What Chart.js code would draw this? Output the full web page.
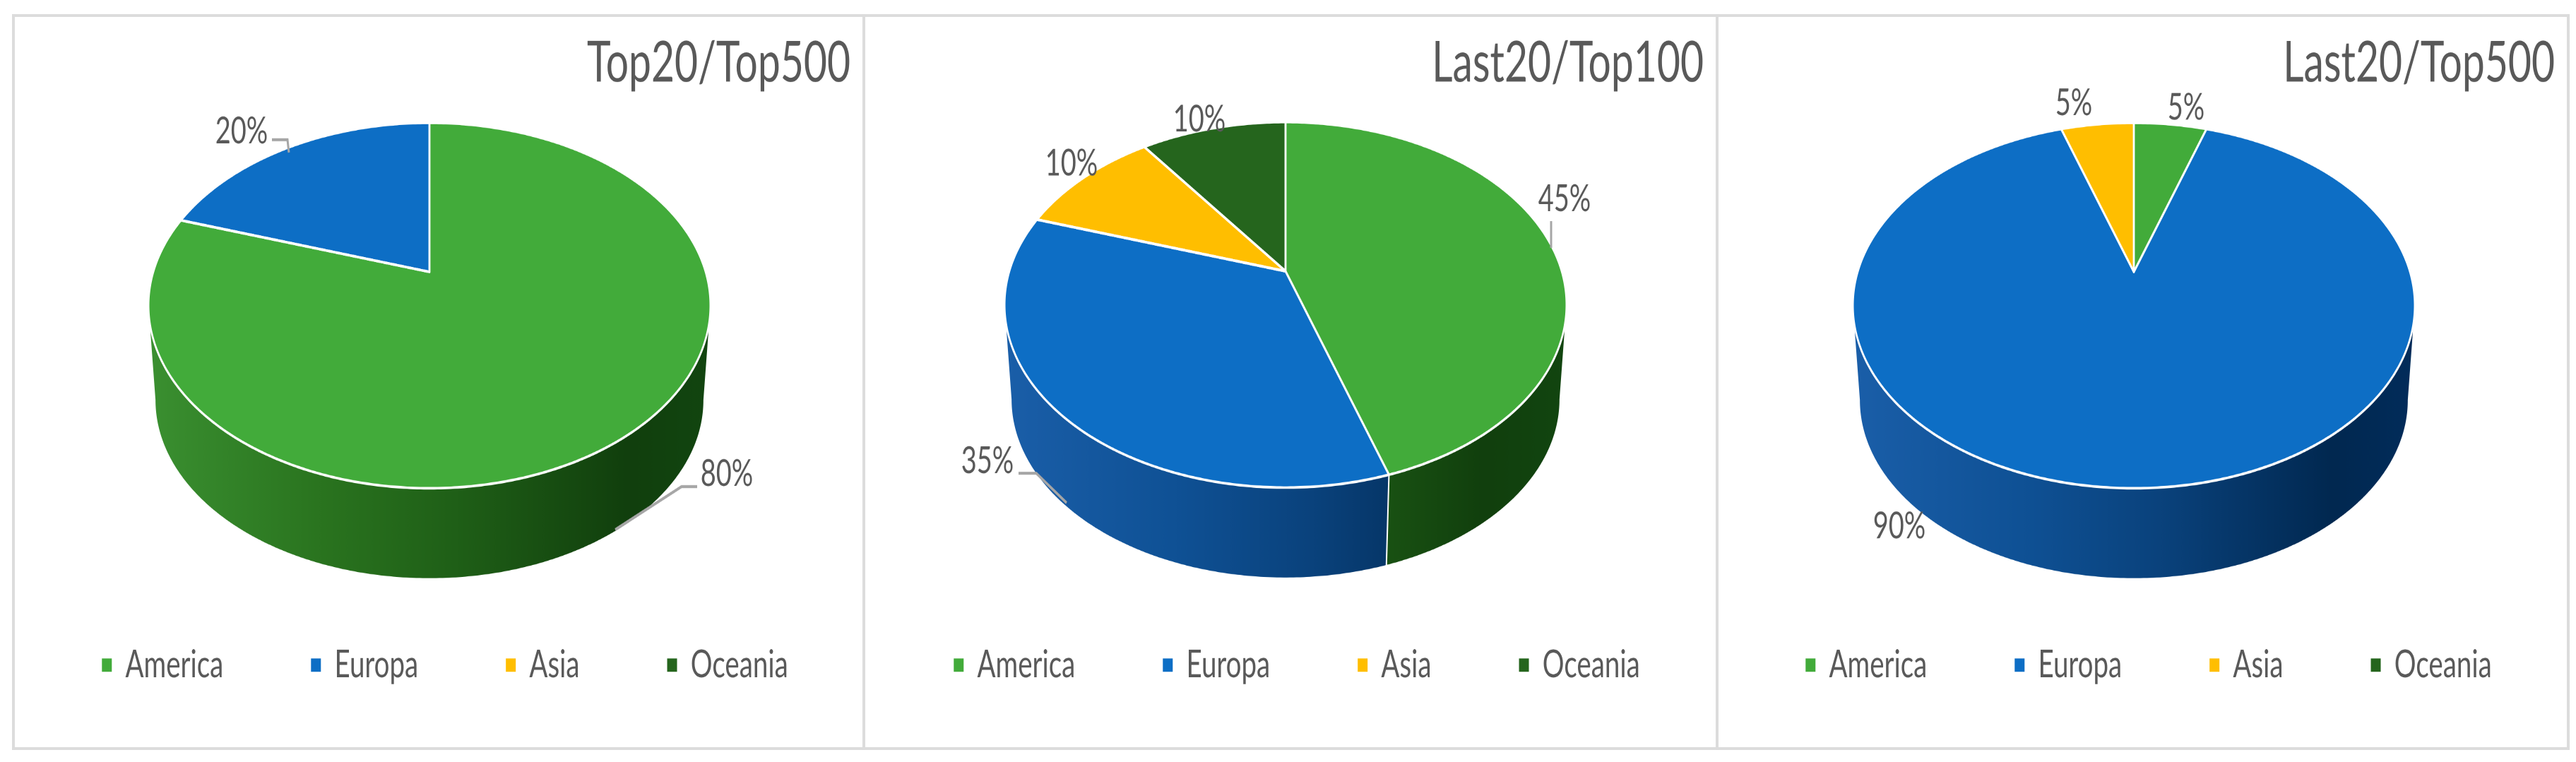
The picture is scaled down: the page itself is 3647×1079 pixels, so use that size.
<!DOCTYPE html>
<html>
<head>
<meta charset="utf-8">
<script src="https://cdn.jsdelivr.net/npm/chart.js@4"></script>
<style>
  html, body { margin: 0; background: #fff; width: 3647px; height: 1079px; overflow: hidden; }
  .card { position: absolute; top: 20px; height: 1042px; border: 4px solid #dcdcdc; box-sizing: border-box; background: #fff; }
  .wrap { position: absolute; top: 0; width: 1300px; height: 702px; transform: scaleY(1.4); transform-origin: 0 0; }
</style>
</head>
<body>
<div class="card" style="left:17px;width:1208px"></div>
<div class="card" style="left:1221px;width:1212px"></div>
<div class="card" style="left:2429px;width:1209px"></div>
<div class="wrap" id="w0"><canvas id="c0" width="1300" height="702"></canvas></div>
<div class="wrap" id="w1"><canvas id="c1" width="1300" height="702"></canvas></div>
<div class="wrap" id="w2"><canvas id="c2" width="1300" height="702"></canvas></div>
<script>
var regions = ['America', 'Europa', 'Asia', 'Oceania'];
var top20Top500 = [80, 20, 0, 0];
var last20Top100 = [45, 35, 10, 10];
var last20Top500 = [5, 90, 5, 0];
var titles = ['Top20/Top500', 'Last20/Top100', 'Last20/Top500'];

var colors = ['#42ab3a', '#0d6ec5', '#ffbe00', '#25651d'];
var sideShades = [
  ['#3a8f30', '#2a741f', '#1f5f17', '#113f0d', '#124510'],
  ['#1a5ea8', '#0f5195', '#0a427c', '#012850', '#022c5a'],
  ['#c89500', '#b08300', '#987000', '#6b5000', '#705400'],
  ['#1f5518', '#1a4a14', '#163f11', '#0e2a0b', '#0f2d0c']
];

// page is stretched 1.4x vertically, so everything below is in unstretched units
var stretch = 1.4;
var radius = 391, tilt = 250 / stretch, persp = 0.184, depth = 135 / stretch;
var textColor = '#595959', leaderColor = '#a6a6a6';

var panels = [
  { data: top20Top500, legendX: 630, pieX: 608, apexY: 385, titleRight: 1204,
    labels: [[1029, 671], [342, 186], null, null],
    leaders: [[[987, 689], [965, 689], [871, 750]], [[385, 198], [407, 198], [409, 216]]] },
  { data: last20Top100, legendX: 1836, pieX: 1820, apexY: 384, titleRight: 2412,
    labels: [[2215, 282], [1398, 653], [1517, 231], [1698, 169]],
    leaders: [[[2196, 313], [2196, 351]], [[1442, 670], [1467, 670], [1510, 712]]] },
  { data: last20Top500, legendX: 3042, pieX: 3021, apexY: 385, titleRight: 3617,
    labels: [[3095, 152], [2689, 745], [2936, 146], null],
    leaders: [] }
];

// tilted disc: circle angle -> page position, the near side comes out larger
function rimPoint(p, a, scale, drop) {
  var w = 1 - persp * Math.sin(a);
  return [p.pieX - p.left + radius * scale * Math.cos(a) / w,
          p.apexY / stretch + drop + tilt * scale * Math.sin(a) / w];
}

function tracePie(ctx, p, from, to, scale, drop, first) {
  var n = Math.max(2, Math.ceil(Math.abs(to - from) / 0.01));
  for (var i = 0; i <= n; i++) {
    var q = rimPoint(p, from + (to - from) * i / n, scale, drop);
    if (i == 0 && first) ctx.moveTo(q[0], q[1]); else ctx.lineTo(q[0], q[1]);
  }
}

function pie3d(p) {
  return {
    id: 'pie3d',
    afterLayout: function (chart) {
      chart.titleBlock.right = p.titleRight - p.left;
    },
    beforeDatasetDraw: function (chart, args) {
      var ctx = chart.ctx, arcs = args.meta.data;
      var cx = p.pieX - p.left;
      var t0 = Math.asin(persp), t1 = Math.PI - t0;
      ctx.save();
      // side wall first
      arcs.forEach(function (arc, i) {
        var from = Math.max(arc.startAngle, t0), to = Math.min(arc.endAngle, t1);
        if (to <= from) return;
        var g = ctx.createLinearGradient(cx - 390, 0, cx + 390, 0);
        sideShades[i].forEach(function (c, j) { g.addColorStop([0, 0.3, 0.55, 0.86, 1][j], c); });
        ctx.beginPath();
        tracePie(ctx, p, from, to, 1, 0, true);
        tracePie(ctx, p, to, from, 0.975, depth, false);
        ctx.closePath();
        ctx.fillStyle = g;
        ctx.fill();
      });
      // white seam down the wall where two slices meet
      arcs.forEach(function (arc) {
        if (arc.endAngle > t0 && arc.endAngle < t1 && arc.circumference > 0) {
          var a = rimPoint(p, arc.endAngle, 1, 0), b = rimPoint(p, arc.endAngle, 0.975, depth);
          ctx.beginPath();
          ctx.moveTo(a[0], a[1]);
          ctx.lineTo(b[0], b[1]);
          ctx.strokeStyle = '#fff';
          ctx.lineWidth = 2;
          ctx.stroke();
        }
      });
      // top face
      arcs.forEach(function (arc, i) {
        if (arc.circumference <= 0) return;
        var c = rimPoint(p, 0, 0, 0);
        ctx.beginPath();
        ctx.moveTo(c[0], c[1]);
        tracePie(ctx, p, arc.startAngle, arc.endAngle, 1, 0, false);
        ctx.closePath();
        ctx.fillStyle = colors[i];
        ctx.fill();
      });
      arcs.forEach(function (arc) {
        if (arc.circumference <= 0) return;
        var c = rimPoint(p, 0, 0, 0);
        ctx.beginPath();
        ctx.moveTo(c[0], c[1]);
        tracePie(ctx, p, arc.startAngle, arc.endAngle, 1, 0, false);
        ctx.closePath();
        ctx.strokeStyle = '#fff';
        ctx.lineWidth = 2.6;
        ctx.lineJoin = 'round';
        ctx.stroke();
      });
      ctx.restore();
      return false;
    },
    afterDatasetsDraw: function (chart) {
      var ctx = chart.ctx;
      ctx.save();
      ctx.strokeStyle = leaderColor;
      ctx.lineWidth = 3;
      p.leaders.forEach(function (line) {
        ctx.beginPath();
        line.forEach(function (q, i) {
          if (i == 0) ctx.moveTo(q[0] - p.left, q[1] / stretch);
          else ctx.lineTo(q[0] - p.left, q[1] / stretch);
        });
        ctx.stroke();
      });
      ctx.font = '38px Lato';
      ctx.fillStyle = textColor;
      ctx.textAlign = 'center';
      ctx.textBaseline = 'middle';
      p.data.forEach(function (v, i) {
        if (p.labels[i]) ctx.fillText(v + '%', p.labels[i][0] - p.left, p.labels[i][1] / stretch);
      });
      ctx.restore();
    }
  };
}

panels.forEach(function (p, n) {
  p.left = p.legendX - 650;
  document.getElementById('w' + n).style.left = p.left + 'px';
  new Chart(document.getElementById('c' + n), {
    type: 'pie',
    data: {
      labels: regions,
      datasets: [{ data: p.data, backgroundColor: colors, borderWidth: 0 }]
    },
    options: {
      responsive: false,
      animation: false,
      devicePixelRatio: 2,
      plugins: {
        tooltip: { enabled: false },
        title: {
          display: true,
          text: titles[n],
          align: 'end',
          color: textColor,
          font: { family: 'Lato', size: 57, weight: 'normal' },
          padding: { top: 30, bottom: 0 }
        },
        legend: {
          position: 'bottom',
          labels: {
            color: textColor,
            font: { family: 'Lato', size: 38.5 },
            boxWidth: 14,
            boxHeight: 13.5,
            padding: 124
          }
        }
      }
    },
    plugins: [pie3d(p)]
  });
});
</script>
</body>
</html>
